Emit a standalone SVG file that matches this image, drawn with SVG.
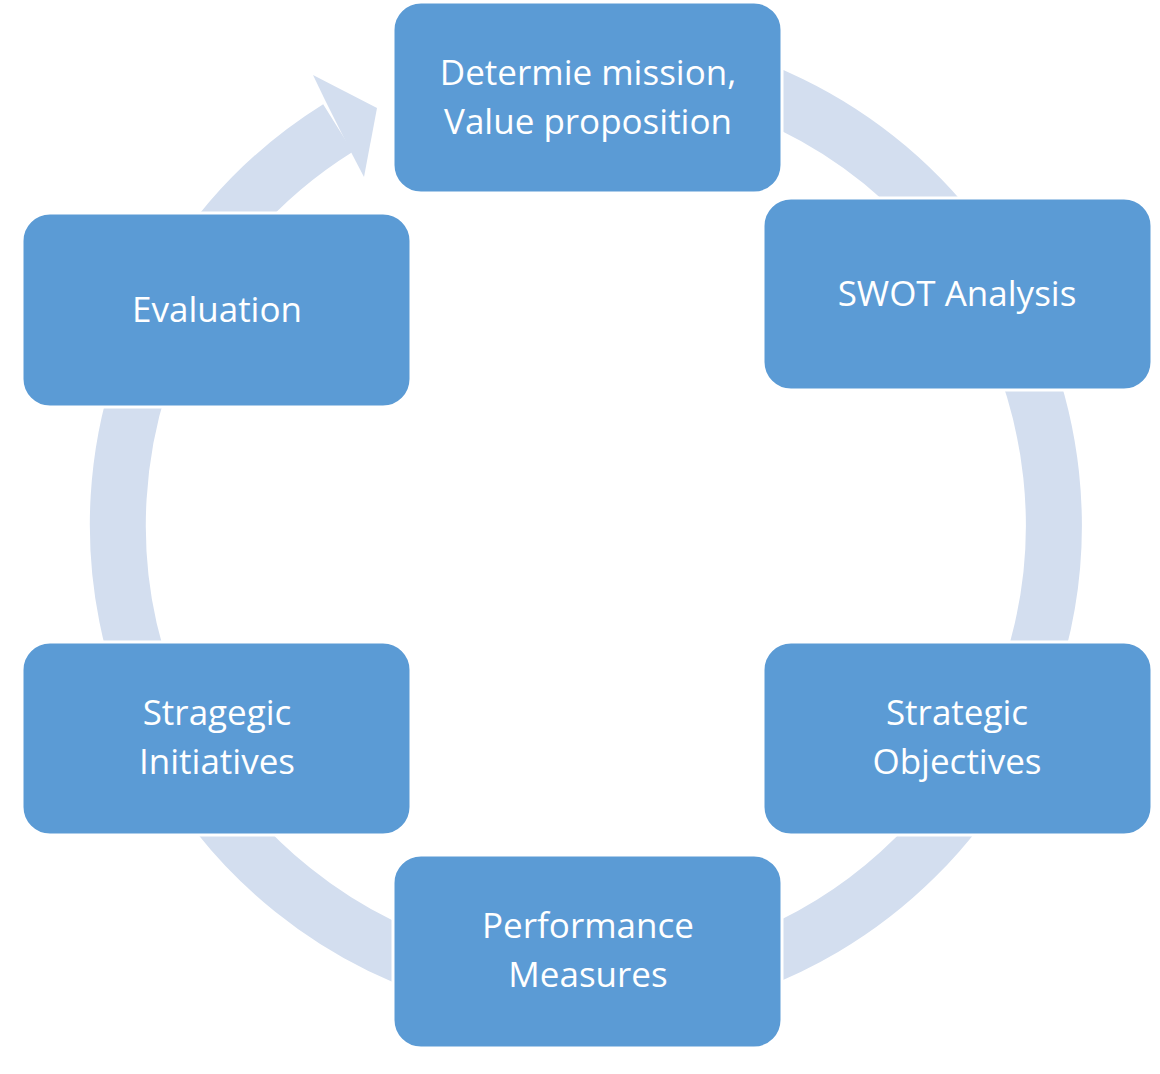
<svg xmlns="http://www.w3.org/2000/svg" width="1160" height="1074" viewBox="0 0 1160 1074">
<style>
.b{fill:#5B9BD5;stroke:#fff;stroke-width:3}
.t{fill:#fff;font-family:"Open Sans","Liberation Sans",sans-serif;font-size:35px;text-anchor:middle}
</style>
<rect width="1160" height="1074" fill="#fff"/>
<g id="connectors">
<path d="M 588 57 A 468 468 0 1 1 338 128" fill="none" stroke="#D3DEEF" stroke-width="56"/>
<polygon points="313,75 377,108 364,177 352,154 325,100" fill="#D3DEEF"/>
</g>
<g id="n1"><rect class="b" x="393" y="2" width="389" height="191" rx="28"/><text class="t" x="588" y="85">Determie mission,</text><text class="t" x="588" y="134">Value proposition</text></g>
<g id="n2"><rect class="b" x="763" y="198" width="389" height="192" rx="28"/><text class="t" x="957" y="306">SWOT Analysis</text></g>
<g id="n3"><rect class="b" x="763" y="642" width="389" height="193" rx="28"/><text class="t" x="957" y="725">Strategic</text><text class="t" x="957" y="774">Objectives</text></g>
<g id="n4"><rect class="b" x="393" y="855" width="389" height="193" rx="28"/><text class="t" x="588" y="938">Performance</text><text class="t" x="588" y="987">Measures</text></g>
<g id="n5"><rect class="b" x="22" y="642" width="389" height="193" rx="28"/><text class="t" x="217" y="725">Stragegic</text><text class="t" x="217" y="774">Initiatives</text></g>
<g id="n6"><rect class="b" x="22" y="213" width="389" height="194" rx="28"/><text class="t" x="217" y="322">Evaluation</text></g>
</svg>
